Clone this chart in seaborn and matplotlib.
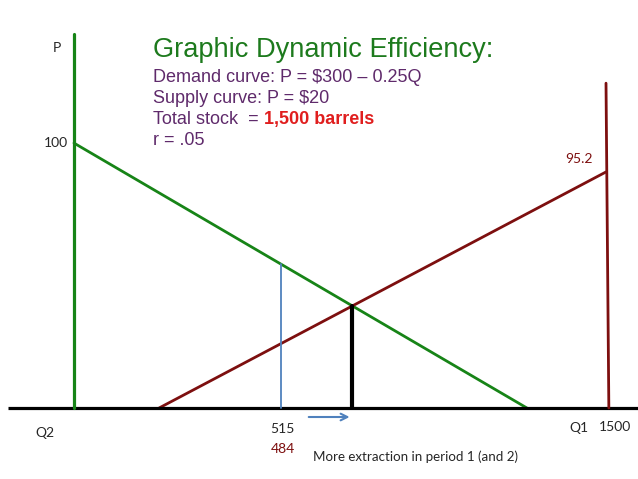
import numpy as np
import pandas as pd
import matplotlib
matplotlib.use('Agg')
import matplotlib.pyplot as plt
import seaborn as sns

# curvas del gráfico (Q medida desde Q2 a la izquierda, Q1 = 1500 a la derecha)
demanda_q = [0, 1277]
demanda_p = [100, 0]
oferta_q = [240, 1500]
oferta_p = [0, 89.1]
eje_q1_q = [1508, 1500]     # eje de Q1 (ligeramente inclinado en el original)
eje_q1_p = [0, 122.6]
q_estatico = 584      # linea azul (515 / 484)
eje_p_alto = 141

titulo = 'Graphic Dynamic Efficiency:'
lineas_info = ['Demand curve: P = $300 \u2013 0.25Q', 'Supply curve: P = $20',
               'Total stock  = ', 'r = .05']
stock_txt = '1,500 barrels'

verde = '#178417'
rojo = '#7d0f0f'
azul = '#4f81bd'
morado = '#5f2a6b'

sns.set_theme(style='white')
plt.rcParams['font.family'] = ['Lato', 'DejaVu Sans']

fig = plt.figure(figsize=(6.38, 4.79), dpi=100)
ax = fig.add_axes([0, 0, 1, 1])
ax.set_xlim(-208.6, 1590.2)
ax.set_ylim(-26.8, 154)
ax.axis('off')

df_d = pd.DataFrame({'Q': demanda_q, 'P': demanda_p})
df_s = pd.DataFrame({'Q': oferta_q, 'P': oferta_p})
sns.lineplot(data=df_d, x='Q', y='P', ax=ax, color=verde, linewidth=2.0,
             estimator=None, sort=False)
sns.lineplot(data=df_s, x='Q', y='P', ax=ax, color=rojo, linewidth=2.0,
             estimator=None, sort=False)

# interseccion demanda / oferta
m_d = (demanda_p[1] - demanda_p[0]) / (demanda_q[1] - demanda_q[0])
m_s = (oferta_p[1] - oferta_p[0]) / (oferta_q[1] - oferta_q[0])
q_eq = (demanda_p[0] - oferta_p[0] + m_s * oferta_q[0]) / (m_s - m_d)
p_eq = demanda_p[0] + m_d * q_eq
p_azul = demanda_p[0] + m_d * q_estatico

# ejes
ax.plot([-186, 1590], [0, 0], color='black', lw=2.3, solid_capstyle='butt')
ax.plot([0, 0], [0, eje_p_alto], color=verde, lw=2.3)
ax.plot(eje_q1_q, eje_q1_p, color=rojo, lw=2.0)
ax.plot([q_estatico, q_estatico], [0, p_azul], color=azul, lw=1.3)
ax.plot([q_eq, q_eq], [0, p_eq], color='black', lw=3.0)

ax.annotate('', xy=(q_eq, -3.4), xytext=(654, -3.4),
            arrowprops=dict(arrowstyle='->', color=azul, lw=1.5))

# etiquetas
kw = dict(fontsize=10, va='baseline')
ax.text(-48, 134.3, 'P', ha='center', **kw)
ax.text(-17, 98.5, '100', ha='right', **kw)
ax.text(-83, -10.9, 'Q2', ha='center', **kw)
ax.text(589, -9.4, '515', ha='center', **kw)
ax.text(589, -17.0, '484', ha='center', color=rojo, **kw)
ax.text(674, -20.0, 'More extraction in period 1 (and 2)', ha='left',
        fontsize=9.6, va='baseline')
ax.text(1424, -9.1, 'Q1', ha='center', **kw)
ax.text(1525, -8.7, '1500', ha='center', **kw)
ax.text(1424, 92.4, '95.2', ha='center', color=rojo, **kw)

# titulo y datos
fig.text(153 / 638, 1 - 57 / 479, titulo, fontsize=19.6, color='#1d7a1d',
         family='Liberation Sans', va='baseline', ha='left')
bases = [82, 103, 124, 145]
textos = []
for txt, b in zip(lineas_info, bases):
    t = fig.text(153 / 638, 1 - b / 479, txt, fontsize=13, color=morado,
                 family='Liberation Sans', va='baseline', ha='left')
    textos.append(t)
ax.annotate(stock_txt, xy=(1, 0), xycoords=textos[2], ha='left', va='bottom',
            fontsize=13, color='#e01e1e', fontweight='bold',
            family='Liberation Sans')

fig.savefig('out.png', dpi=100)
